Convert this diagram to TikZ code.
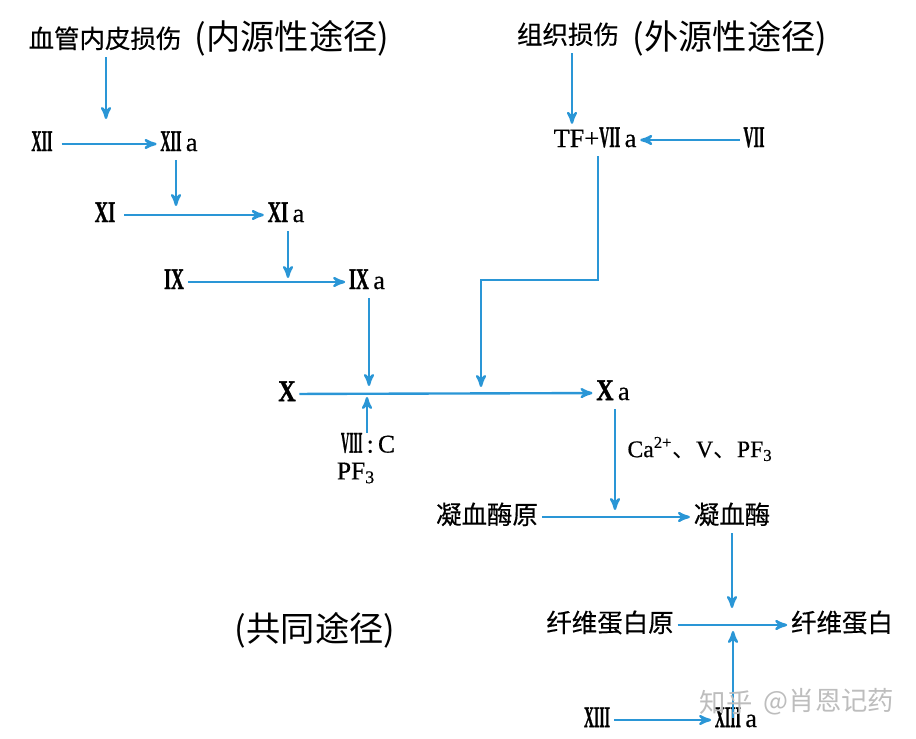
\documentclass[tikz,border=0pt]{standalone}
\usepackage{fontspec}
\setmainfont{Liberation Serif}
\newfontfamily\cjk{Noto Sans CJK SC}
\newfontfamily\cjkmed[FakeBold=0.4]{Noto Sans CJK SC}
\newfontfamily\medfont[FakeBold=0.5]{Liberation Serif}
\newfontfamily\rnfont[FakeBold=1.5]{Liberation Serif Bold}
\usetikzlibrary{arrows}
\definecolor{flowblue}{HTML}{2A96D6}
\newcommand{\rn}[2]{\scalebox{#1}[1]{\fontsize{17}{20}\rnfont #2}}
\newcommand{\lett}{\fontsize{15}{18}\medfont}
\tikzset{
  lab/.style={inner xsep=2pt,inner ysep=0pt,text height=13pt,text depth=5pt,font=\fontsize{17}{20}\selectfont},
  zh/.style={lab,font=\fontsize{14.5}{18}\selectfont\cjkmed},
  path name/.style={inner sep=0pt,font=\fontsize{19.5}{23}\selectfont\cjk},
  small/.style={inner sep=0pt,font=\fontsize{14.5}{17}\selectfont\medfont},
  mark text/.style={inner sep=0pt,text=black!26,font=\fontsize{15}{18}\selectfont\cjk},
  flow/.style={->,>=stealth',flowblue,line width=1.35pt}
}
\begin{document}
\begin{tikzpicture}[x=0.02cm,y=-0.02cm]
\useasboundingbox (0,0) rectangle (916,739);

\node [zh] (injury) at (105,41) {血管内皮损伤}; \node [path name] (intrinsic) at (292,38) {(内源性途径)};
\node [zh] (tissue) at (568,37) {组织损伤}; \node [path name] (extrinsic) at (730,38) {(外源性途径)};

\node [lab] (f12) at (42,144) {\rn{.47}{XII}}; \node [lab] (f12a) at (179,144) {\rn{.47}{XII}\lett\,a};
\node [lab] (f11) at (105,215) {\rn{.62}{XI}}; \node [lab] (f11a) at (286,215) {\rn{.62}{XI}\lett\,a};
\node [lab] (f9) at (174,282) {\rn{.6}{IX}}; \node [lab] (f9a) at (367,282) {\rn{.6}{IX}\lett\,a};
\node [lab] (f10) at (287,394) {\rn{.8}{X}}; \node [lab] (f10a) at (613,393) {\rn{.8}{X}\lett\,a};
\node [lab] (tf7a) at (595,140) {\lett TF+\rn{.47}{VII}\lett\,a}; \node [lab] (f7) at (754,140) {\rn{.47}{VII}};

\node [small] (f8c) at (368,443) {\rn{.38}{VIII}\,:\,C}; \node [small] (pf3) at (356,473) {PF\textsubscript{3}};
\node [small,font=\fontsize{13.5}{17}\selectfont\medfont] (cofactor) at (700,449) {Ca\textsuperscript{2+}{\cjk 、}V{\cjk 、}PF\textsubscript{3}};

\node [zh] (prothrombin) at (487,517) {凝血酶原}; \node [zh] (thrombin) at (732,517) {凝血酶};
\node [zh] (fibrinogen) at (610,625) {纤维蛋白原}; \node [zh] (fibrin) at (842,625) {纤维蛋白};
\node [lab] (f13) at (597,720) {\rn{.46}{XIII}}; \node [lab] (f13a) at (736,720) {\rn{.46}{XIII}\lett\,a};

\node [path name] (common) at (315,630) {(共同途径)};

\coordinate (tipa) at (106,119); \coordinate (tipb) at (176,206); \coordinate (tipc) at (288,278);
\coordinate (tipd) at (369,386); \coordinate (tipe) at (367,397); \coordinate (tipf) at (481,387);
\coordinate (tipg) at (615,510); \coordinate (tiph) at (732,608); \coordinate (tipi) at (733,631);
\coordinate (bendb) at (598,280); \coordinate (bendc) at (481,280);

\draw [flow] (injury.south -| tipa) -- (tipa);
\draw [flow,shorten <=3pt] (f12) -- (f12a);
\draw [flow] (f12a.south -| tipb) -- (tipb);
\draw [flow,shorten <=3pt] (f11) -- (f11a);
\draw [flow] (f11a.south -| tipc) -- (tipc);
\draw [flow] (f9) -- (f9a);
\draw [flow] (f9a.south -| tipd) -- (tipd);
\draw [flow] (f10) -- (f10a);
\draw [flow] (f8c.north -| tipe) -- (tipe);

\draw [flow] (tissue.south -| 572,0) -- (tf7a.north -| 572,0);
\draw [flow] (f7) -- (tf7a);
\draw [flow] (tf7a.south -| bendb) -- (bendb) -- (bendc) -- (tipf);

\draw [flow] (f10a.south -| tipg) -- (tipg);
\draw [flow] (prothrombin) -- (thrombin);
\draw [flow] (thrombin.south) -- (tiph);
\draw [flow] (fibrinogen) -- (fibrin);
\draw [flow,shorten <=-8pt] (f13a.north -| tipi) -- (tipi);
\draw [flow] (f13) -- (f13a);

\node [mark text] (markzh) at (726,702) {知乎}; \node [mark text] (markname) at (829,702) {@肖恩记药};
\end{tikzpicture}
\end{document}
